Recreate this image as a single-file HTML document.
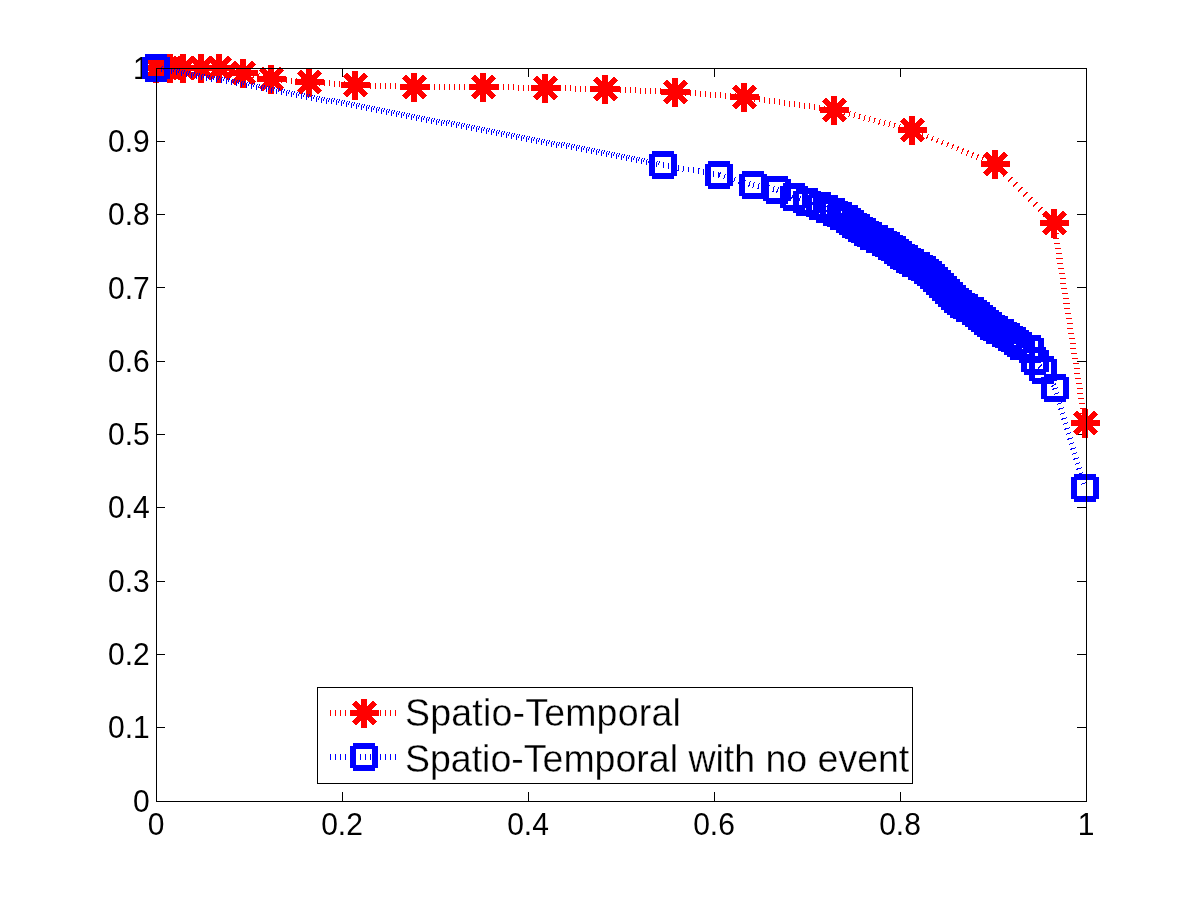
<!DOCTYPE html><html><head><meta charset="utf-8"><style>html,body{margin:0;padding:0;background:#fff;width:1200px;height:900px;overflow:hidden}svg{display:block;will-change:transform}text{font-family:"Liberation Sans",sans-serif;fill:#000}.lg{stroke:#fff;stroke-width:0.3px}</style></head><body>
<svg width="1200" height="900" viewBox="0 0 1200 900">
<rect width="1200" height="900" fill="#fff"/>
<text transform="translate(156.0,835) scale(1,1.04)" font-size="30" text-anchor="middle">0</text>
<text transform="translate(342.0,835) scale(1,1.04)" font-size="30" text-anchor="middle">0.2</text>
<text transform="translate(528.0,835) scale(1,1.04)" font-size="30" text-anchor="middle">0.4</text>
<text transform="translate(714.0,835) scale(1,1.04)" font-size="30" text-anchor="middle">0.6</text>
<text transform="translate(900.0,835) scale(1,1.04)" font-size="30" text-anchor="middle">0.8</text>
<text transform="translate(1086.0,835) scale(1,1.04)" font-size="30" text-anchor="middle">1</text>
<text transform="translate(149.8,811.60) scale(1,1.04)" font-size="30" text-anchor="end">0</text>
<text transform="translate(149.8,738.30) scale(1,1.04)" font-size="30" text-anchor="end">0.1</text>
<text transform="translate(149.8,665.00) scale(1,1.04)" font-size="30" text-anchor="end">0.2</text>
<text transform="translate(149.8,591.70) scale(1,1.04)" font-size="30" text-anchor="end">0.3</text>
<text transform="translate(149.8,518.40) scale(1,1.04)" font-size="30" text-anchor="end">0.4</text>
<text transform="translate(149.8,445.10) scale(1,1.04)" font-size="30" text-anchor="end">0.5</text>
<text transform="translate(149.8,371.80) scale(1,1.04)" font-size="30" text-anchor="end">0.6</text>
<text transform="translate(149.8,298.50) scale(1,1.04)" font-size="30" text-anchor="end">0.7</text>
<text transform="translate(149.8,225.20) scale(1,1.04)" font-size="30" text-anchor="end">0.8</text>
<text transform="translate(149.8,151.90) scale(1,1.04)" font-size="30" text-anchor="end">0.9</text>
<text transform="translate(149.8,78.60) scale(1,1.04)" font-size="30" text-anchor="end">1</text>
<path d="M156.5,801V792M156.5,68V77M342.5,801V792M342.5,68V77M528.5,801V792M528.5,68V77M714.5,801V792M714.5,68V77M900.5,801V792M900.5,68V77M1086.5,801V792M1086.5,68V77M156,801.5H165M1086,801.5H1077M156,727.5H165M1086,727.5H1077M156,654.5H165M1086,654.5H1077M156,581.5H165M1086,581.5H1077M156,507.5H165M1086,507.5H1077M156,434.5H165M1086,434.5H1077M156,361.5H165M1086,361.5H1077M156,287.5H165M1086,287.5H1077M156,214.5H165M1086,214.5H1077M156,141.5H165M1086,141.5H1077M156,68.5H165M1086,68.5H1077" stroke="#000" stroke-width="1" shape-rendering="crispEdges"/>
<g fill="none" stroke="#f00" stroke-width="6" shape-rendering="crispEdges"><path d="M156,68L170,68" stroke-dasharray="1.000 4.000"/><path d="M170,68L183,68" stroke-dasharray="1.000 4.000"/><path d="M183,68L201,68" stroke-dasharray="1.000 4.000"/><path d="M201,68L219,68" stroke-dasharray="1.000 4.000"/><path d="M219,68L243,73" stroke-dasharray="1.021 4.086"/><path d="M243,73L271,79" stroke-dasharray="1.023 4.091"/><path d="M271,79L309,82" stroke-dasharray="1.003 4.012"/><path d="M309,82L355,85" stroke-dasharray="1.002 4.008"/><path d="M355,85L414,87" stroke-dasharray="1.001 4.002"/><path d="M414,87L483,87" stroke-dasharray="1.000 4.000"/><path d="M483,87L545,88" stroke-dasharray="1.000 4.001"/><path d="M545,88L605,89" stroke-dasharray="1.000 4.001"/><path d="M605,89L675,92" stroke-dasharray="1.001 4.004"/><path d="M675,92L744,97" stroke-dasharray="1.003 4.010"/><path d="M744,97L834,110" stroke-dasharray="1.010 4.042"/><path d="M834,110L912,130" stroke-dasharray="1.032 4.129"/><path d="M912,130L995,164" stroke-dasharray="1.081 4.323"/><path d="M995,164L1054,223" stroke-dasharray="1.414 5.657"/><path d="M1054,223L1085,423" stroke-dasharray="1.012 4.048"/></g>
<path d="M142,68H171M156,54V83M146.20,57.70L166.80,78.30M146.20,78.30L166.80,57.70M156,68H185M170,54V83M160.20,57.70L180.80,78.30M160.20,78.30L180.80,57.70M169,68H198M183,54V83M173.20,57.70L193.80,78.30M173.20,78.30L193.80,57.70M187,68H216M201,54V83M191.20,57.70L211.80,78.30M191.20,78.30L211.80,57.70M205,68H234M219,54V83M209.20,57.70L229.80,78.30M209.20,78.30L229.80,57.70M229,73H258M243,59V88M233.20,62.70L253.80,83.30M233.20,83.30L253.80,62.70M257,79H286M271,65V94M261.20,68.70L281.80,89.30M261.20,89.30L281.80,68.70M295,82H324M309,68V97M299.20,71.70L319.80,92.30M299.20,92.30L319.80,71.70M341,85H370M355,71V100M345.20,74.70L365.80,95.30M345.20,95.30L365.80,74.70M400,87H429M414,73V102M404.20,76.70L424.80,97.30M404.20,97.30L424.80,76.70M469,87H498M483,73V102M473.20,76.70L493.80,97.30M473.20,97.30L493.80,76.70M531,88H560M545,74V103M535.20,77.70L555.80,98.30M535.20,98.30L555.80,77.70M591,89H620M605,75V104M595.20,78.70L615.80,99.30M595.20,99.30L615.80,78.70M661,92H690M675,78V107M665.20,81.70L685.80,102.30M665.20,102.30L685.80,81.70M730,97H759M744,83V112M734.20,86.70L754.80,107.30M734.20,107.30L754.80,86.70M820,110H849M834,96V125M824.20,99.70L844.80,120.30M824.20,120.30L844.80,99.70M898,130H927M912,116V145M902.20,119.70L922.80,140.30M902.20,140.30L922.80,119.70M981,164H1010M995,150V179M985.20,153.70L1005.80,174.30M985.20,174.30L1005.80,153.70M1040,223H1069M1054,209V238M1044.20,212.70L1064.80,233.30M1044.20,233.30L1064.80,212.70M1071,423H1100M1085,409V438M1075.20,412.70L1095.80,433.30M1075.20,433.30L1095.80,412.70" fill="none" stroke="#f00" stroke-width="6" shape-rendering="crispEdges"/>
<path d="M161,67h1v5h-1zM162,66h1v1h-1zM163,68h1v2h-1zM164,66h1v2h-1zM166,68h1v5h-1zM167,67h1v1h-1zM168,69h1v2h-1zM169,67h1v2h-1zM171,69h1v5h-1zM172,68h1v1h-1zM173,70h1v2h-1zM174,68h1v2h-1zM176,70h1v5h-1zM177,69h1v1h-1zM178,71h1v2h-1zM179,69h1v2h-1zM181,71h1v5h-1zM182,70h1v1h-1zM183,72h1v2h-1zM184,70h1v2h-1zM186,72h1v5h-1zM187,71h1v1h-1zM188,73h1v2h-1zM189,71h1v2h-1zM191,73h1v5h-1zM192,72h1v1h-1zM193,74h1v2h-1zM194,72h1v2h-1zM196,74h1v5h-1zM197,73h1v1h-1zM198,75h1v2h-1zM199,73h1v2h-1zM201,75h1v5h-1zM202,74h1v1h-1zM203,76h1v2h-1zM204,74h1v2h-1zM206,76h1v5h-1zM207,75h1v1h-1zM208,77h1v2h-1zM209,75h1v2h-1zM211,77h1v5h-1zM212,76h1v1h-1zM213,78h1v2h-1zM214,76h1v2h-1zM216,77h1v5h-1zM217,76h1v1h-1zM218,78h1v2h-1zM219,76h1v2h-1zM221,78h1v5h-1zM222,77h1v1h-1zM223,79h1v2h-1zM224,77h1v2h-1zM226,79h1v5h-1zM227,78h1v1h-1zM228,80h1v2h-1zM229,78h1v2h-1zM231,80h1v5h-1zM232,79h1v1h-1zM233,81h1v2h-1zM234,79h1v2h-1zM236,81h1v5h-1zM237,80h1v1h-1zM238,82h1v2h-1zM239,80h1v2h-1zM241,82h1v5h-1zM242,81h1v1h-1zM243,83h1v2h-1zM244,81h1v2h-1zM246,83h1v5h-1zM247,82h1v1h-1zM248,84h1v2h-1zM249,82h1v2h-1zM251,84h1v5h-1zM252,83h1v1h-1zM253,85h1v2h-1zM254,83h1v2h-1zM256,85h1v5h-1zM257,84h1v1h-1zM258,86h1v2h-1zM259,84h1v2h-1zM261,86h1v5h-1zM262,85h1v1h-1zM263,87h1v2h-1zM264,85h1v2h-1zM266,87h1v5h-1zM267,86h1v1h-1zM268,88h1v2h-1zM269,86h1v2h-1zM271,88h1v5h-1zM272,87h1v1h-1zM273,89h1v2h-1zM274,87h1v2h-1zM276,89h1v5h-1zM277,88h1v1h-1zM278,90h1v2h-1zM279,88h1v2h-1zM281,90h1v5h-1zM282,89h1v1h-1zM283,91h1v2h-1zM284,89h1v2h-1zM286,91h1v5h-1zM287,90h1v1h-1zM288,92h1v2h-1zM289,90h1v2h-1zM291,92h1v5h-1zM292,91h1v1h-1zM293,93h1v2h-1zM294,91h1v2h-1zM296,93h1v5h-1zM297,92h1v1h-1zM298,94h1v2h-1zM299,92h1v2h-1zM301,94h1v5h-1zM302,93h1v1h-1zM303,95h1v2h-1zM304,93h1v2h-1zM306,95h1v5h-1zM307,94h1v1h-1zM308,96h1v2h-1zM309,94h1v2h-1zM311,96h1v5h-1zM312,95h1v1h-1zM313,97h1v2h-1zM314,95h1v2h-1zM316,97h1v5h-1zM317,96h1v1h-1zM318,98h1v2h-1zM319,96h1v2h-1zM321,98h1v5h-1zM322,97h1v1h-1zM323,99h1v2h-1zM324,97h1v2h-1zM326,99h1v5h-1zM327,98h1v1h-1zM328,100h1v2h-1zM329,98h1v2h-1zM331,99h1v5h-1zM332,98h1v1h-1zM333,100h1v2h-1zM334,98h1v2h-1zM336,100h1v5h-1zM337,99h1v1h-1zM338,101h1v2h-1zM339,99h1v2h-1zM341,101h1v5h-1zM342,100h1v1h-1zM343,102h1v2h-1zM344,100h1v2h-1zM346,102h1v5h-1zM347,101h1v1h-1zM348,103h1v2h-1zM349,101h1v2h-1zM351,103h1v5h-1zM352,102h1v1h-1zM353,104h1v2h-1zM354,102h1v2h-1zM356,104h1v5h-1zM357,103h1v1h-1zM358,105h1v2h-1zM359,103h1v2h-1zM361,105h1v5h-1zM362,104h1v1h-1zM363,106h1v2h-1zM364,104h1v2h-1zM366,106h1v5h-1zM367,105h1v1h-1zM368,107h1v2h-1zM369,105h1v2h-1zM371,107h1v5h-1zM372,106h1v1h-1zM373,108h1v2h-1zM374,106h1v2h-1zM376,108h1v5h-1zM377,107h1v1h-1zM378,109h1v2h-1zM379,107h1v2h-1zM381,109h1v5h-1zM382,108h1v1h-1zM383,110h1v2h-1zM384,108h1v2h-1zM386,110h1v5h-1zM387,109h1v1h-1zM388,111h1v2h-1zM389,109h1v2h-1zM391,111h1v5h-1zM392,110h1v1h-1zM393,112h1v2h-1zM394,110h1v2h-1zM396,112h1v5h-1zM397,111h1v1h-1zM398,113h1v2h-1zM399,111h1v2h-1zM401,113h1v5h-1zM402,112h1v1h-1zM403,114h1v2h-1zM404,112h1v2h-1zM406,114h1v5h-1zM407,113h1v1h-1zM408,115h1v2h-1zM409,113h1v2h-1zM411,115h1v5h-1zM412,114h1v1h-1zM413,116h1v2h-1zM414,114h1v2h-1zM416,116h1v5h-1zM417,115h1v1h-1zM418,117h1v2h-1zM419,115h1v2h-1zM421,117h1v5h-1zM422,116h1v1h-1zM423,118h1v2h-1zM424,116h1v2h-1zM426,118h1v5h-1zM427,117h1v1h-1zM428,119h1v2h-1zM429,117h1v2h-1zM431,119h1v5h-1zM432,118h1v1h-1zM433,120h1v2h-1zM434,118h1v2h-1zM436,120h1v5h-1zM437,119h1v1h-1zM438,121h1v2h-1zM439,119h1v2h-1zM441,121h1v5h-1zM442,120h1v1h-1zM443,122h1v2h-1zM444,120h1v2h-1zM446,121h1v5h-1zM447,120h1v1h-1zM448,122h1v2h-1zM449,120h1v2h-1zM451,122h1v5h-1zM452,121h1v1h-1zM453,123h1v2h-1zM454,121h1v2h-1zM456,123h1v5h-1zM457,122h1v1h-1zM458,124h1v2h-1zM459,122h1v2h-1zM461,124h1v5h-1zM462,123h1v1h-1zM463,125h1v2h-1zM464,123h1v2h-1zM466,125h1v5h-1zM467,124h1v1h-1zM468,126h1v2h-1zM469,124h1v2h-1zM471,126h1v5h-1zM472,125h1v1h-1zM473,127h1v2h-1zM474,125h1v2h-1zM476,127h1v5h-1zM477,126h1v1h-1zM478,128h1v2h-1zM479,126h1v2h-1zM481,128h1v5h-1zM482,127h1v1h-1zM483,129h1v2h-1zM484,127h1v2h-1zM486,129h1v5h-1zM487,128h1v1h-1zM488,130h1v2h-1zM489,128h1v2h-1zM491,130h1v5h-1zM492,129h1v1h-1zM493,131h1v2h-1zM494,129h1v2h-1zM496,131h1v5h-1zM497,130h1v1h-1zM498,132h1v2h-1zM499,130h1v2h-1zM501,132h1v5h-1zM502,131h1v1h-1zM503,133h1v2h-1zM504,131h1v2h-1zM506,133h1v5h-1zM507,132h1v1h-1zM508,134h1v2h-1zM509,132h1v2h-1zM511,134h1v5h-1zM512,133h1v1h-1zM513,135h1v2h-1zM514,133h1v2h-1zM516,135h1v5h-1zM517,134h1v1h-1zM518,136h1v2h-1zM519,134h1v2h-1zM521,136h1v5h-1zM522,135h1v1h-1zM523,137h1v2h-1zM524,135h1v2h-1zM526,137h1v5h-1zM527,136h1v1h-1zM528,138h1v2h-1zM529,136h1v2h-1zM531,138h1v5h-1zM532,137h1v1h-1zM533,139h1v2h-1zM534,137h1v2h-1zM536,139h1v5h-1zM537,138h1v1h-1zM538,140h1v2h-1zM539,138h1v2h-1zM541,140h1v5h-1zM542,139h1v1h-1zM543,141h1v2h-1zM544,139h1v2h-1zM546,141h1v5h-1zM547,140h1v1h-1zM548,142h1v2h-1zM549,140h1v2h-1zM551,142h1v5h-1zM552,141h1v1h-1zM553,143h1v2h-1zM554,141h1v2h-1zM556,143h1v5h-1zM557,142h1v1h-1zM558,144h1v2h-1zM559,142h1v2h-1zM561,143h1v5h-1zM562,142h1v1h-1zM563,144h1v2h-1zM564,142h1v2h-1zM566,144h1v5h-1zM567,143h1v1h-1zM568,145h1v2h-1zM569,143h1v2h-1zM571,145h1v5h-1zM572,144h1v1h-1zM573,146h1v2h-1zM574,144h1v2h-1zM576,146h1v5h-1zM577,145h1v1h-1zM578,147h1v2h-1zM579,145h1v2h-1zM581,147h1v5h-1zM582,146h1v1h-1zM583,148h1v2h-1zM584,146h1v2h-1zM586,148h1v5h-1zM587,147h1v1h-1zM588,149h1v2h-1zM589,147h1v2h-1zM591,149h1v5h-1zM592,148h1v1h-1zM593,150h1v2h-1zM594,148h1v2h-1zM596,150h1v5h-1zM597,149h1v1h-1zM598,151h1v2h-1zM599,149h1v2h-1zM601,151h1v5h-1zM602,150h1v1h-1zM603,152h1v2h-1zM604,150h1v2h-1zM606,152h1v5h-1zM607,151h1v1h-1zM608,153h1v2h-1zM609,151h1v2h-1zM611,153h1v5h-1zM612,152h1v1h-1zM613,154h1v2h-1zM614,152h1v2h-1zM616,154h1v5h-1zM617,153h1v1h-1zM618,155h1v2h-1zM619,153h1v2h-1zM621,155h1v5h-1zM622,154h1v1h-1zM623,156h1v2h-1zM624,154h1v2h-1zM626,156h1v5h-1zM627,155h1v1h-1zM628,157h1v2h-1zM629,155h1v2h-1zM631,157h1v5h-1zM632,156h1v1h-1zM633,158h1v2h-1zM634,156h1v2h-1zM636,158h1v5h-1zM637,157h1v1h-1zM638,159h1v2h-1zM639,157h1v2h-1zM641,159h1v5h-1zM642,158h1v1h-1zM643,160h1v2h-1zM644,158h1v2h-1zM646,160h1v5h-1zM647,159h1v1h-1zM648,161h1v2h-1zM649,159h1v2h-1zM651,161h1v5h-1zM652,160h1v1h-1zM653,162h1v2h-1zM654,160h1v2h-1zM656,162h1v5h-1zM657,161h1v1h-1zM658,163h1v2h-1zM659,161h1v2h-1z" fill="#00f" shape-rendering="crispEdges"/>
<g fill="none" stroke="#00f" stroke-width="6" shape-rendering="crispEdges"><path d="M663,165L719,175" stroke-dasharray="1.016 4.063"/><path d="M719,175L753,185" stroke-dasharray="1.042 4.169"/><path d="M753,185L777,190" stroke-dasharray="1.021 4.086"/><path d="M777,190L794,197" stroke-dasharray="1.081 4.326"/><path d="M794,197L807,202" stroke-dasharray="1.071 4.286"/><path d="M807,202L820,206" stroke-dasharray="1.046 4.185"/><path d="M820,206L827,209" stroke-dasharray="1.088 4.352"/><path d="M827,209L834,212" stroke-dasharray="1.088 4.352"/><path d="M834,212L841,216" stroke-dasharray="1.152 4.607"/><path d="M841,216L847,219" stroke-dasharray="1.118 4.472"/><path d="M847,219L853,224" stroke-dasharray="1.302 5.207"/><path d="M853,224L859,228" stroke-dasharray="1.202 4.807"/><path d="M859,228L865,232" stroke-dasharray="1.202 4.807"/><path d="M865,232L871,236" stroke-dasharray="1.202 4.807"/><path d="M871,236L877,239" stroke-dasharray="1.118 4.472"/><path d="M877,239L883,242" stroke-dasharray="1.118 4.472"/><path d="M883,242L889,246" stroke-dasharray="1.202 4.807"/><path d="M889,246L895,250" stroke-dasharray="1.202 4.807"/><path d="M895,250L901,255" stroke-dasharray="1.302 5.207"/><path d="M901,255L907,259" stroke-dasharray="1.202 4.807"/><path d="M907,259L913,263" stroke-dasharray="1.202 4.807"/><path d="M913,263L919,266" stroke-dasharray="1.118 4.472"/><path d="M919,266L925,270" stroke-dasharray="1.202 4.807"/><path d="M925,270L931,275" stroke-dasharray="1.302 5.207"/><path d="M931,275L937,281" stroke-dasharray="1.414 5.657"/><path d="M937,281L943,287" stroke-dasharray="1.414 5.657"/><path d="M943,287L949,293" stroke-dasharray="1.414 5.657"/><path d="M949,293L955,299" stroke-dasharray="1.414 5.657"/><path d="M955,299L961,304" stroke-dasharray="1.302 5.207"/><path d="M961,304L967,308" stroke-dasharray="1.202 4.807"/><path d="M967,308L973,311" stroke-dasharray="1.118 4.472"/><path d="M973,311L979,316" stroke-dasharray="1.302 5.207"/><path d="M979,316L985,321" stroke-dasharray="1.302 5.207"/><path d="M985,321L991,326" stroke-dasharray="1.302 5.207"/><path d="M991,326L997,330" stroke-dasharray="1.202 4.807"/><path d="M997,330L1003,333" stroke-dasharray="1.118 4.472"/><path d="M1003,333L1009,337" stroke-dasharray="1.202 4.807"/><path d="M1009,337L1015,341" stroke-dasharray="1.202 4.807"/><path d="M1015,341L1021,346" stroke-dasharray="1.302 5.207"/><path d="M1021,346L1030,349" stroke-dasharray="1.054 4.216"/><path d="M1030,349L1035,361" stroke-dasharray="1.083 4.333"/><path d="M1035,361L1043,370" stroke-dasharray="1.338 5.352"/><path d="M1043,370L1055,388" stroke-dasharray="1.202 4.807"/><path d="M1055,388L1085,488" stroke-dasharray="1.044 4.176"/></g>
<path d="M145,57H167M167,57V79M167,79H145M145,79V57M652,154H674M674,154V176M674,176H652M652,176V154M708,164H730M730,164V186M730,186H708M708,186V164M742,174H764M764,174V196M764,196H742M742,196V174M766,179H788M788,179V201M788,201H766M766,201V179M783,186H805M805,186V208M805,208H783M783,208V186M796,191H818M818,191V213M818,213H796M796,213V191M809,195H831M831,195V217M831,217H809M809,217V195M816,198H838M838,198V220M838,220H816M816,220V198M823,201H845M845,201V223M845,223H823M823,223V201M830,205H852M852,205V227M852,227H830M830,227V205M836,208H858M858,208V230M858,230H836M836,230V208M842,213H864M864,213V235M864,235H842M842,235V213M848,217H870M870,217V239M870,239H848M848,239V217M854,221H876M876,221V243M876,243H854M854,243V221M860,225H882M882,225V247M882,247H860M860,247V225M866,228H888M888,228V250M888,250H866M866,250V228M872,231H894M894,231V253M894,253H872M872,253V231M878,235H900M900,235V257M900,257H878M878,257V235M884,239H906M906,239V261M906,261H884M884,261V239M890,244H912M912,244V266M912,266H890M890,266V244M896,248H918M918,248V270M918,270H896M896,270V248M902,252H924M924,252V274M924,274H902M902,274V252M908,255H930M930,255V277M930,277H908M908,277V255M914,259H936M936,259V281M936,281H914M914,281V259M920,264H942M942,264V286M942,286H920M920,286V264M926,270H948M948,270V292M948,292H926M926,292V270M932,276H954M954,276V298M954,298H932M932,298V276M938,282H960M960,282V304M960,304H938M938,304V282M944,288H966M966,288V310M966,310H944M944,310V288M950,293H972M972,293V315M972,315H950M950,315V293M956,297H978M978,297V319M978,319H956M956,319V297M962,300H984M984,300V322M984,322H962M962,322V300M968,305H990M990,305V327M990,327H968M968,327V305M974,310H996M996,310V332M996,332H974M974,332V310M980,315H1002M1002,315V337M1002,337H980M980,337V315M986,319H1008M1008,319V341M1008,341H986M986,341V319M992,322H1014M1014,322V344M1014,344H992M992,344V322M998,326H1020M1020,326V348M1020,348H998M998,348V326M1004,330H1026M1026,330V352M1026,352H1004M1004,352V330M1010,335H1032M1032,335V357M1032,357H1010M1010,357V335M1019,338H1041M1041,338V360M1041,360H1019M1019,360V338M1024,350H1046M1046,350V372M1046,372H1024M1024,372V350M1032,359H1054M1054,359V381M1054,381H1032M1032,381V359M1044,377H1066M1066,377V399M1066,399H1044M1044,399V377M1074,477H1096M1096,477V499M1096,499H1074M1074,499V477" fill="none" stroke="#00f" stroke-width="6" shape-rendering="crispEdges"/>
<path d="M156.5,68.5H1086.5V801.5H156.5Z" fill="none" stroke="#000" stroke-width="1" shape-rendering="crispEdges"/>
<rect x="317.5" y="687.5" width="595" height="96" fill="#fff" stroke="#000" stroke-width="1" shape-rendering="crispEdges"/>
<path d="M330,713H397" stroke="#f00" stroke-width="6" stroke-dasharray="1 4" shape-rendering="crispEdges"/>
<path d="M350,713H379M364,699V728M354.20,702.70L374.80,723.30M354.20,723.30L374.80,702.70" fill="none" stroke="#f00" stroke-width="6" shape-rendering="crispEdges"/>
<path d="M330,757H397" stroke="#00f" stroke-width="6" stroke-dasharray="1 4" shape-rendering="crispEdges"/>
<path d="M353,746H375M375,746V768M375,768H353M353,768V746" fill="none" stroke="#00f" stroke-width="6" shape-rendering="crispEdges"/>
<text transform="translate(405,725.5) scale(1,1.05)" font-size="37.5" letter-spacing="0.2" class="lg">Spatio-Temporal</text>
<text transform="translate(405,771.5) scale(1,1.05)" font-size="37.5" class="lg">Spatio-Temporal with no event</text>
</svg></body></html>
